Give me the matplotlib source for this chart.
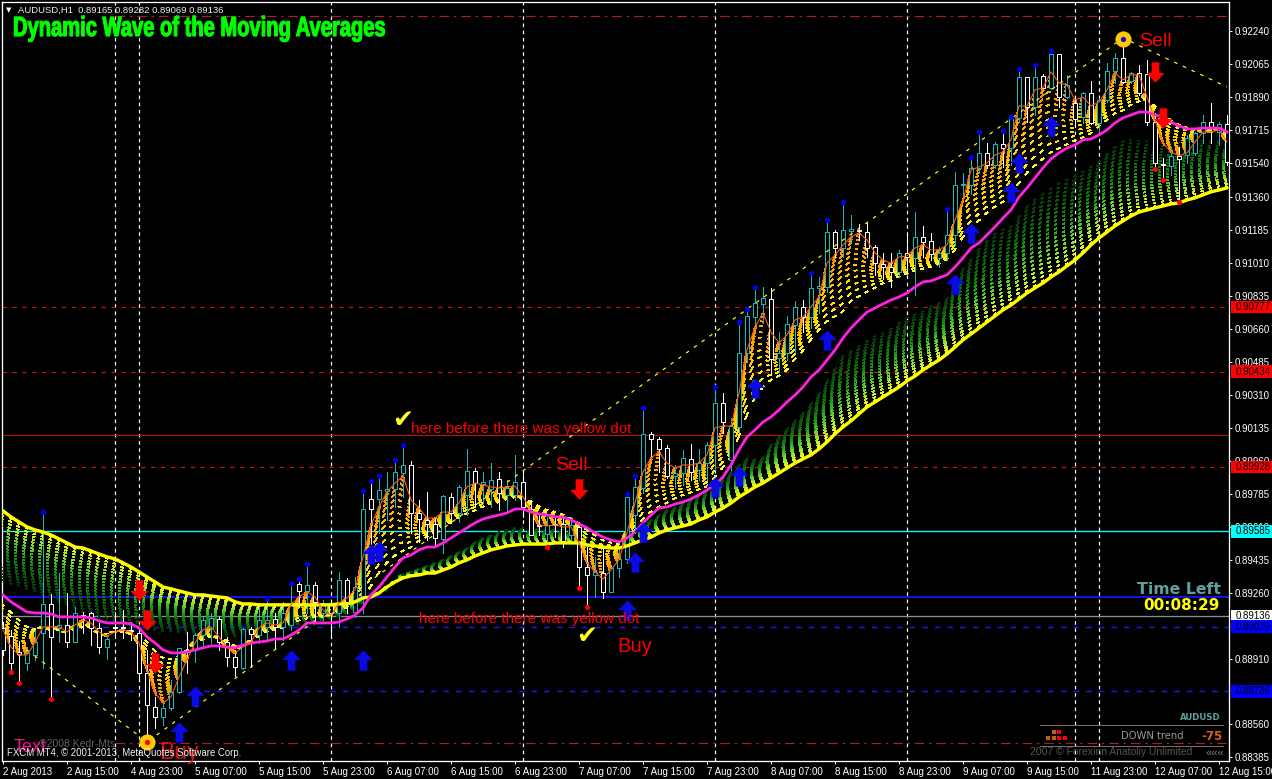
import numpy as np
import matplotlib
matplotlib.use("Agg")
import matplotlib.pyplot as plt
import matplotlib.patheffects as pe
from matplotlib.collections import LineCollection
from matplotlib.colors import LinearSegmentedColormap
from matplotlib.lines import Line2D
from matplotlib.patches import Rectangle
from matplotlib.path import Path
from matplotlib.transforms import Affine2D, blended_transform_factory

W, H = 1272, 779
SANS = ["Liberation Sans", "DejaVu Sans"]
plt.rcParams["font.family"] = SANS

# Candles, in 1e-5 price units
bar_kind = ("WWWCCCWCWC" "WWWCWWWWWW" "CCCWCCCWWW" "CWCCWCCWCW" "CWCWCCWCCC" "CWWWWCWCCW"
            "CCWCCWWWCW" "WCWWCWCCCC" "CWWWCCWCCC" "WCCCCCWCCC" "WCCCWCCWWW" "WWCWCWWCCC"
            "CCCWCWCCWC" "WCWCWCWCCC" "WCWWWWCWCC" "CWCW")
body_top = [
    89073,89030,88945,88940,88998,89200,89200,89088,89088,89152,
    89141,89152,89073,89014,89078,89078,89062,89046,88833,88653,
    88648,88732,88967,88956,89035,89115,89126,89120,88998,88918,
    89067,89067,89115,89115,89120,89152,89200,89306,89300,89300,
    89205,89205,89327,89327,89290,89704,89757,89805,89810,89900,
    89937,89937,89683,89646,89625,89773,89768,89821,89906,89906,
    89847,89858,89863,89815,89847,89847,89704,89619,89619,89625,
    89625,89619,89609,89396,89370,89364,89391,89439,89768,89821,
    90103,90103,90076,90028,89895,89975,89970,89948,90044,90267,
    90267,90145,90532,90729,90798,90825,90819,90532,90687,90777,
    90777,90878,90888,91175,91175,91186,91191,91186,91175,91096,
    91005,90989,91064,91064,91149,91149,91127,91064,91159,91425,
    91430,91515,91595,91595,91643,91643,91781,91998,91998,91998,
    92003,92120,92120,91956,91860,91913,91913,91876,92030,92099,
    92099,92019,92019,92014,91759,91536,91579,91579,91674,91701,
    91759,91759,91749,91749]
body_bottom = [
    88956,88886,88934,88886,88929,89046,89025,89073,88998,88998,
    89136,89073,88971,88971,89073,89073,89057,88833,88664,88600,
    88600,88648,88732,88945,88956,89035,89073,88998,88918,88865,
    88860,89041,89035,89078,89078,89078,89088,89269,89269,89211,
    89152,89152,89152,89211,89157,89237,89704,89757,89800,89810,
    89895,89683,89651,89625,89550,89545,89683,89683,89779,89842,
    89837,89810,89789,89779,89779,89715,89566,89614,89571,89619,
    89534,89566,89396,89354,89354,89264,89264,89391,89439,89672,
    89815,90076,90023,89880,89880,89895,89900,89911,89948,90044,
    90166,89964,90140,90532,90724,90793,90500,90506,90532,90681,
    90724,90724,90878,90883,91090,91090,91180,91180,91090,91010,
    90989,90963,90963,91042,91037,91122,91058,91037,91064,91159,
    91425,91425,91515,91531,91531,91621,91621,91781,91839,91839,
    91940,91940,91892,91892,91775,91786,91754,91754,91876,92030,
    91972,91977,91913,91759,91541,91531,91526,91563,91584,91595,
    91701,91733,91706,91547]
highs = [
    89104,89062,89003,88971,89062,89688,89253,89364,89258,89184,
    89157,89157,89099,89035,89157,89168,89104,89078,88956,88706,
    88674,88796,88967,89051,89046,89131,89152,89131,89025,88956,
    89073,89078,89184,89232,89152,89211,89311,89333,89412,89317,
    89221,89221,89370,89338,89343,89800,89853,89879,89900,89964,
    90044,89959,89752,89795,89662,89779,89789,89832,90023,89922,
    89900,89948,89900,89858,89991,89900,89752,89683,89662,89662,
    89672,89662,89619,89502,89449,89497,89396,89502,89784,89879,
    90241,90113,90087,90044,89938,90018,90049,90023,90060,90352,
    90320,90187,90697,90766,90883,90883,90878,90644,90729,90809,
    90814,90957,90936,91239,91186,91334,91265,91218,91223,91106,
    91064,91064,91080,91159,91281,91207,91170,91096,91297,91494,
    91488,91573,91706,91648,91653,91711,91786,92041,91998,92062,
    92014,92136,92120,92009,91887,91918,91977,91887,92072,92126,
    92200,92025,92062,92088,91807,91568,91626,91626,91690,91706,
    91796,91860,91759,91796]
lows = [
    88929,88839,88780,88849,88902,88860,88695,88998,88971,89003,
    89046,88982,88940,88908,89025,89020,89009,88796,88467,88541,
    88557,88637,88727,88833,88892,88971,88993,88956,88871,88817,
    88855,88865,88993,89009,88961,89009,89062,89184,89152,89099,
    89115,89035,89078,89152,89131,89152,89502,89577,89646,89715,
    89768,89577,89529,89540,89502,89471,89630,89635,89672,89715,
    89736,89715,89699,89683,89752,89662,89566,89566,89502,89555,
    89502,89540,89285,89184,89237,89232,89264,89343,89418,89577,
    89789,89980,89900,89869,89815,89832,89858,89858,89858,89911,
    90108,89911,90113,90485,90671,90692,90416,90432,90495,90532,
    90644,90665,90745,90857,91042,91042,91122,91133,91042,90947,
    90926,90883,90936,90957,90841,91042,91026,90989,91026,91106,
    91356,91377,91488,91515,91515,91520,91531,91759,91759,91796,
    91940,91934,91839,91887,91743,91754,91749,91706,91865,91966,
    91966,91966,91903,91743,91510,91451,91478,91334,91541,91584,
    91648,91648,91637,91531]

# Moving averages
fast_ma = [
    89062,88971,88929,88929,88993,89078,89078,89078,89051,89088,
    89115,89099,89051,89030,89051,89062,89051,88993,88849,88727,
    88674,88706,88812,88902,88993,89062,89078,89025,88971,88940,
    88971,88998,89073,89099,89088,89099,89195,89237,89264,89237,
    89168,89141,89205,89232,89274,89450,89619,89715,89795,89842,
    89879,89752,89709,89656,89656,89688,89688,89736,89821,89842,
    89832,89821,89815,89821,89826,89768,89699,89619,89614,89619,
    89609,89609,89524,89418,89370,89333,89380,89434,89577,89736,
    89900,89975,90007,89948,89922,89938,89938,89948,89991,90134,
    90145,90145,90320,90549,90671,90745,90644,90586,90628,90708,
    90724,90777,90830,91010,91053,91106,91149,91170,91133,91064,
    91026,91010,91042,91048,91090,91106,91080,91080,91106,91239,
    91345,91504,91520,91541,91584,91600,91664,91844,91844,91929,
    91940,92025,91966,91956,91876,91892,91844,91865,91929,92019,
    91982,92009,92009,91892,91770,91648,91600,91579,91595,91653,
    91706,91706,91717,91653]
wave1_edge = [
    89205,89168,89126,89088,89073,89073,89062,89062,89051,89062,
    89073,89073,89051,89046,89051,89051,89041,89030,89009,88966,
    88929,88918,88929,88956,88982,89009,89020,89020,89009,88982,
    88966,88998,89025,89051,89062,89073,89088,89104,89115,89126,
    89131,89141,89157,89179,89205,89221,89274,89343,89396,89434,
    89460,89487,89524,89550,89577,89604,89630,89656,89672,89688,
    89709,89725,89736,89752,89762,89762,89746,89725,89704,89693,
    89678,89656,89635,89604,89577,89550,89534,89524,89540,89582,
    89635,89672,89699,89725,89752,89768,89784,89800,89815,89858,
    89911,89975,90071,90177,90267,90325,90373,90400,90432,90485,
    90532,90591,90644,90681,90708,90734,90787,90814,90841,90867,
    90894,90910,90931,90947,90963,90973,90984,91000,91026,91069,
    91133,91175,91218,91260,91292,91319,91356,91409,91467,91504,
    91541,91573,91600,91621,91648,91664,91690,91727,91759,91791,
    91812,91839,91860,91876,91849,91807,91780,91754,91738,91727,
    91722,91717,91717,91711]
pink_ma = [
    89248,89211,89184,89157,89152,89152,89147,89131,89131,89131,
    89131,89126,89110,89099,89099,89099,89094,89073,89025,88993,
    88956,88940,88940,88945,88956,88967,88977,88977,88971,88967,
    88982,88993,88998,89003,89014,89014,89035,89062,89099,89099,
    89099,89099,89104,89120,89141,89179,89248,89290,89343,89396,
    89444,89460,89487,89502,89502,89524,89550,89577,89604,89630,
    89651,89662,89672,89683,89704,89704,89688,89678,89672,89662,
    89662,89646,89625,89604,89577,89555,89540,89529,89550,89582,
    89630,89672,89709,89715,89730,89741,89757,89779,89805,89832,
    89874,89938,90018,90087,90124,90166,90193,90230,90272,90309,
    90352,90405,90442,90495,90548,90612,90665,90708,90750,90771,
    90793,90814,90830,90851,90883,90910,90915,90931,90947,90989,
    91037,91090,91117,91159,91202,91249,91292,91361,91409,91462,
    91515,91563,91595,91621,91637,91664,91669,91690,91717,91754,
    91781,91796,91812,91812,91796,91786,91759,91738,91722,91722,
    91727,91727,91727,91706]
slow_ma = [
    89694,89662,89635,89609,89593,89582,89566,89545,89524,89502,
    89497,89481,89465,89450,89439,89418,89396,89370,89343,89317,
    89290,89280,89269,89258,89248,89248,89242,89237,89232,89211,
    89200,89200,89195,89195,89195,89195,89195,89195,89195,89195,
    89195,89195,89200,89200,89211,89232,89237,89258,89290,89317,
    89338,89349,89354,89364,89364,89380,89396,89418,89434,89455,
    89471,89487,89497,89508,89513,89518,89518,89518,89518,89524,
    89524,89524,89524,89513,89508,89502,89497,89497,89508,89524,
    89540,89555,89577,89593,89604,89614,89625,89646,89662,89688,
    89709,89736,89768,89794,89821,89842,89869,89895,89922,89948,
    89970,89991,90023,90060,90103,90140,90172,90209,90246,90272,
    90299,90325,90352,90384,90410,90442,90469,90495,90527,90564,
    90602,90633,90665,90697,90729,90761,90787,90819,90851,90878,
    90904,90936,90963,90995,91026,91064,91106,91143,91175,91207,
    91234,91260,91281,91292,91303,91313,91324,91329,91345,91356,
    91372,91388,91398,91409]
wave2_edge = [
    89317,89300,89290,89274,89264,89237,89221,89205,89189,89168,
    89152,89136,89115,89104,89088,89073,89062,89062,89062,89057,
    89051,89051,89046,89035,89025,89020,89020,89020,89025,89025,
    89030,89035,89041,89051,89062,89062,89073,89083,89088,89088,
    89104,89115,89131,89147,89168,89205,89232,89248,89274,89311,
    89354,89370,89386,89402,89418,89434,89455,89476,89497,89529,
    89550,89566,89582,89593,89604,89609,89609,89609,89604,89604,
    89598,89588,89577,89556,89540,89518,89513,89508,89540,89582,
    89619,89646,89672,89699,89715,89736,89752,89779,89805,89842,
    89869,89901,89938,89975,89975,89980,90044,90087,90134,90177,
    90219,90267,90320,90389,90453,90522,90548,90575,90602,90628,
    90644,90665,90697,90724,90745,90761,90787,90803,90825,90920,
    90984,91037,91090,91133,91175,91196,91212,91265,91318,91356,
    91387,91414,91441,91462,91478,91504,91531,91557,91595,91632,
    91664,91674,91669,91664,91658,91653,91653,91653,91658,91658,
    91664,91664,91664,91664]

# Signals
blue_dot_bars = [5,33,36,37,38,45,46,47,49,50,78,79,80,89,92,93,94,101,103,105,118,121,122,125,126,127,129,131]
red_dot_bars = [1,2,6,18,68,72,73,144,145,147]
up_arrow_bars = [22,24,36,45,46,47,78,79,80,89,92,94,103,119,121,126,127,131]
up_arrow_prices = [88520,88711,88902,88902,89465,89481,89168,89423,89583,89821,89879,90347,90602,90899,91170,91388,91541,91738]
down_arrow_bars = [17,18,19,72,144,145]
down_arrow_prices = [89274,89115,88886,89810,92025,91780]
pivot_bars = [3,18,140,153]
pivot_prices = [88956,88467,92205,91945]

# Levels
red_dashed_levels = [90777,90434,89928]
resistance_level = 90098
cyan_level = 89585
blue_solid_level = 89237
gray_level = 89136
blue_dashed_levels = [89079,88736]
outer_levels = [92322,88462]
session_bars = [14,17,41,65,89,113,134,137]

ytick_values = [92240,92065,91890,91715,91540,91360,91185,91010,90835,90660,90485,90310,
                90135,89960,89785,89610,89435,89260,88910,88560,88385]
xtick_labels = ["2 Aug 2013","2 Aug 15:00","4 Aug 23:00","5 Aug 07:00","5 Aug 15:00","5 Aug 23:00",
                "6 Aug 07:00","6 Aug 15:00","6 Aug 23:00","7 Aug 07:00","7 Aug 15:00","7 Aug 23:00",
                "8 Aug 07:00","8 Aug 15:00","8 Aug 23:00","9 Aug 07:00","9 Aug 15:00","11 Aug 23:00",
                "12 Aug 07:00","12 Aug 15:00"]
price_tags = [(90777,"#ff0000"),(90434,"#ff0000"),(89928,"#ff0000"),(89585,"#00ffff"),
              (89136,"#ffffff"),(89079,"#0000ff"),(88736,"#0000ff")]

P = lambda seq: np.asarray(seq, float) / 1e5
opens_top, opens_bot = P(body_top), P(body_bottom)
hi, lo = P(highs), P(lows)
X = np.arange(len(hi))

PX = 0.72  # points per pixel at dpi 100
fig = plt.figure(figsize=(W / 100, H / 100), dpi=100, facecolor="black")
ax = fig.add_axes([2 / W, 1 - 761 / H, 1227 / W, 759 / H], facecolor="black")
ax.set_xlim(-0.125, 153.25)
ax.set_ylim(0.88366, 0.92396)
for s in ax.spines.values():
    s.set_color("white"); s.set_linewidth(PX * 1.3)

# Levels and separators
for b in session_bars:
    ax.axvline(b, color="white", lw=PX * 1.2, dashes=(3, 3), zorder=1)
for v in red_dashed_levels:
    ax.axhline(v / 1e5, color="#e01010", lw=PX * 1.1, dashes=(4, 5), zorder=1)
ax.axhline(resistance_level / 1e5, color="#d01010", lw=PX, zorder=1)
for v in outer_levels:
    ax.plot([14, 153.25], [v / 1e5, v / 1e5], color="#a82020", lw=PX * 1.2, dashes=(8, 4, 2, 4), zorder=1)
ax.axhline(cyan_level / 1e5, color="#00ffff", lw=PX * 1.3, zorder=1)
ax.axhline(blue_solid_level / 1e5, color="#1010f0", lw=PX * 2, zorder=1)
ax.axhline(gray_level / 1e5, color="#8a8f98", lw=PX * 1.3, zorder=1)
for v in blue_dashed_levels:
    ax.axhline(v / 1e5, color="#1818ff", lw=PX * 1.4, dashes=(4, 5), zorder=1)


def ribbon(a, b, n, cmap, curve, lw, half, power=1.0, z=3):
    a, b = P(a), P(b)
    segs, colors = [], []
    for j in range(n):
        f = ((j + 0.5) / n) ** power
        y = a + (b - a) * f
        dy = np.gradient(y)
        xc = X - curve * np.sin(np.pi * f)
        for i in X:
            segs.append([(xc[i] - half, y[i] - dy[i] * half), (xc[i] + half, y[i] + dy[i] * half)])
            colors.append(cmap(f))
    ax.add_collection(LineCollection(segs, colors=colors, linewidths=lw, zorder=z, antialiased=False))


cm1 = LinearSegmentedColormap.from_list("w1", ["#ff8c00", "#ffa500", "#ffc800", "#ffe000", "#ffff30"])
cm2 = LinearSegmentedColormap.from_list("w2", ["#043004", "#075207", "#0c700c", "#1a9a1a", "#50c828", "#a8e830", "#ffff20"])
ribbon(wave2_edge, slow_ma, 22, cm2, 0.45, PX * 0.9, 0.14)
ribbon(fast_ma, wave1_edge, 13, cm1, 0.45, PX * 0.9, 0.18, power=1.35)

# Candles
kind_color = {"W": "#ffffff", "C": "#20b8b8"}
cols = [kind_color[k] for k in bar_kind]
ax.vlines(X, lo, hi, colors=cols, lw=PX * 1.0, zorder=4, antialiased=False)
ax.bar(X, opens_top - opens_bot, bottom=opens_bot, width=0.62, facecolor="black", edgecolor=cols,
       linewidth=PX * 1.0, zorder=4.1)

ax.plot(pivot_bars, P(pivot_prices), color="#ffff20", lw=PX * 1.2, dashes=(3, 5), zorder=4.2)
ax.plot(X, P(slow_ma), color="#ffff00", lw=PX * 3.4, zorder=5, solid_capstyle="round")
ax.plot(X, P(pink_ma), color="#ff20e0", lw=PX * 2.8, zorder=5.1)
ax.plot(X, P(fast_ma), color="#ff5a10", lw=PX * 1.1, zorder=5.2)

# Dots
ax.scatter(blue_dot_bars, hi[blue_dot_bars], s=14, color="#0000ee", linewidths=0, zorder=6)
ax.scatter(red_dot_bars, lo[red_dot_bars], s=14, color="#ff0000", linewidths=0, zorder=6)

# Arrows
up_path = Path([(0, 1), (0.9, 0.05), (0.38, 0.05), (0.38, -1), (-0.38, -1), (-0.38, 0.05), (-0.9, 0.05), (0, 1)], closed=True)
down_path = Path([(0, -1), (0.9, -0.05), (0.38, -0.05), (0.38, 1), (-0.38, 1), (-0.38, -0.05), (-0.9, -0.05), (0, -1)], closed=True)
ax.scatter(up_arrow_bars, P(up_arrow_prices), marker=up_path, s=215, color="#0a0ae6", linewidths=0, zorder=7)
ax.scatter(down_arrow_bars, P(down_arrow_prices), marker=down_path, s=215, color="#ff0000", linewidths=0, zorder=7)

# Pivot circles
ax.scatter([18], [0.88467], s=135, color="#ffc800", linewidths=0, zorder=6.5)
ax.scatter([140], [0.92200], s=135, color="#ffc800", linewidths=0, zorder=6.5)
ax.scatter([18], [0.88467], s=14, color="#ff0000", linewidths=0, zorder=6.6)
ax.scatter([140], [0.92200], s=14, color="#0000ee", linewidths=0, zorder=6.6)

# Axes ticks
ax.yaxis.tick_right()
ax.set_yticks(P(ytick_values))
ax.set_yticklabels([f"{v / 1e5:.5f}" for v in ytick_values], fontsize=7, color="white")
ax.set_xticks(np.arange(len(xtick_labels)) * 8)
ax.set_xticklabels(xtick_labels, fontsize=7, color="white", ha="left")
ax.tick_params(axis="both", colors="white", length=2.4, width=PX, pad=2)

# Current price tags
tr = blended_transform_factory(ax.transAxes, ax.transData)
for v, c in price_tags:
    ax.add_patch(Rectangle((1.0016, v / 1e5 - 6.3 * 5.31e-5), 0.0335, 12.6 * 5.31e-5, transform=tr,
                           facecolor=c, edgecolor="none", clip_on=False, zorder=8))
    ax.text(1.0055, v / 1e5, f"{v / 1e5:.5f}", transform=tr, fontsize=7, color="black", va="center",
            ha="left", clip_on=False, zorder=9)


def t(x, y, s, **kw):
    kw.setdefault("va", "center")
    kw.setdefault("ha", "left")
    return fig.text(x / W, 1 - y / H, s, zorder=20, **kw)


class Condense(pe.AbstractPathEffect):
    """Squeezes real text sideways about a fixed pixel column, and thickens it."""
    def __init__(self, x0, factor, width):
        super().__init__()
        self.x0, self.factor, self.width = x0, factor, width

    def draw_path(self, renderer, gc, tpath, affine, rgbFace):
        g = renderer.new_gc()
        g.copy_properties(gc)
        g.set_linewidth(self.width)
        g.set_foreground(rgbFace)
        squeeze = Affine2D().translate(-self.x0, 0).scale(self.factor, 1).translate(self.x0, 0)
        renderer.draw_path(g, tpath, affine + squeeze, rgbFace)
        g.restore()


t(9, 10, "▼", color="white", fontsize=5, family="DejaVu Sans", ha="center")
t(18, 10, "AUDUSD,H1  0.89165 0.89282 0.89069 0.89136", color="#f0f0f0", fontsize=6.8)
title = t(13, 29, "Dynamic Wave of the Moving Averages", color="#00ff00", fontsize=20, fontweight="bold")
title.set_path_effects([Condense(13, 0.725, 0.8)])
t(1139, 41, "Sell", color="#ff0000", fontsize=14)
t(555, 465, "Sell", color="#ff0000", fontsize=14)
t(617, 646, "Buy", color="#ff0000", fontsize=14.6)
t(159, 752, "Buy", color="#e01010", fontsize=16.5)
t(14, 747, "Text", color="#ff1090", fontsize=13)
t(411, 429.5, "here before there was yellow dot", color="#ff0000", fontsize=11)
t(419, 619.5, "here before there was yellow dot", color="#ff0000", fontsize=11)
t(403, 420, "✔", color="#ffff20", fontsize=18, family="DejaVu Sans", ha="center")
t(587, 636, "✔", color="#ffff20", fontsize=18, family="DejaVu Sans", ha="center")
t(39, 744, "©2008 Kedr-Mts", color="#606060", fontsize=7.5)
t(7, 753, "FXCM MT4, © 2001-2013, MetaQuotes Software Corp.", color="#f0f0f0", fontsize=6.9)
t(1137, 590, "Time Left", color="#5f9ea0", fontsize=11.3, fontweight="bold", family="DejaVu Sans")
t(1143, 605, "00:08:29", color="#ffff00", fontsize=11, fontweight="bold", family="DejaVu Sans")
t(1180, 718, "AUDUSD", color="#5f9ea0", fontsize=6.2, fontweight="bold", family="DejaVu Sans")
t(1121, 736, "DOWN trend", color="#9a9a9a", fontsize=7.2, family="DejaVu Sans")
t(1201, 736, "-75", color="#d86020", fontsize=8.5, fontweight="bold", family="DejaVu Sans")
t(1030, 752, "2007 © Forexinn Anatoliy Unlimited", color="#555555", fontsize=7.5)
t(1205, 753, "«««", color="#808080", fontsize=8)

for yy in (725, 746):
    fig.add_artist(Line2D([1040 / W, 1223 / W], [1 - yy / H] * 2, color="#707070", lw=PX, zorder=19))
squares = [(1046, 736, "#c06010"), (1052, 736, "#c06010"), (1057, 736, "#ff0000"), (1063, 736, "#ff0000"),
           (1052, 730, "#c06010"), (1057, 730, "#ff0000")]
for sx, sy, c in squares:
    fig.add_artist(Rectangle((sx / W, 1 - (sy + 4) / H), 4 / W, 4 / H, facecolor=c, edgecolor="none",
                             transform=fig.transFigure, zorder=19))

fig.savefig("out.png", dpi=100, facecolor="black")
